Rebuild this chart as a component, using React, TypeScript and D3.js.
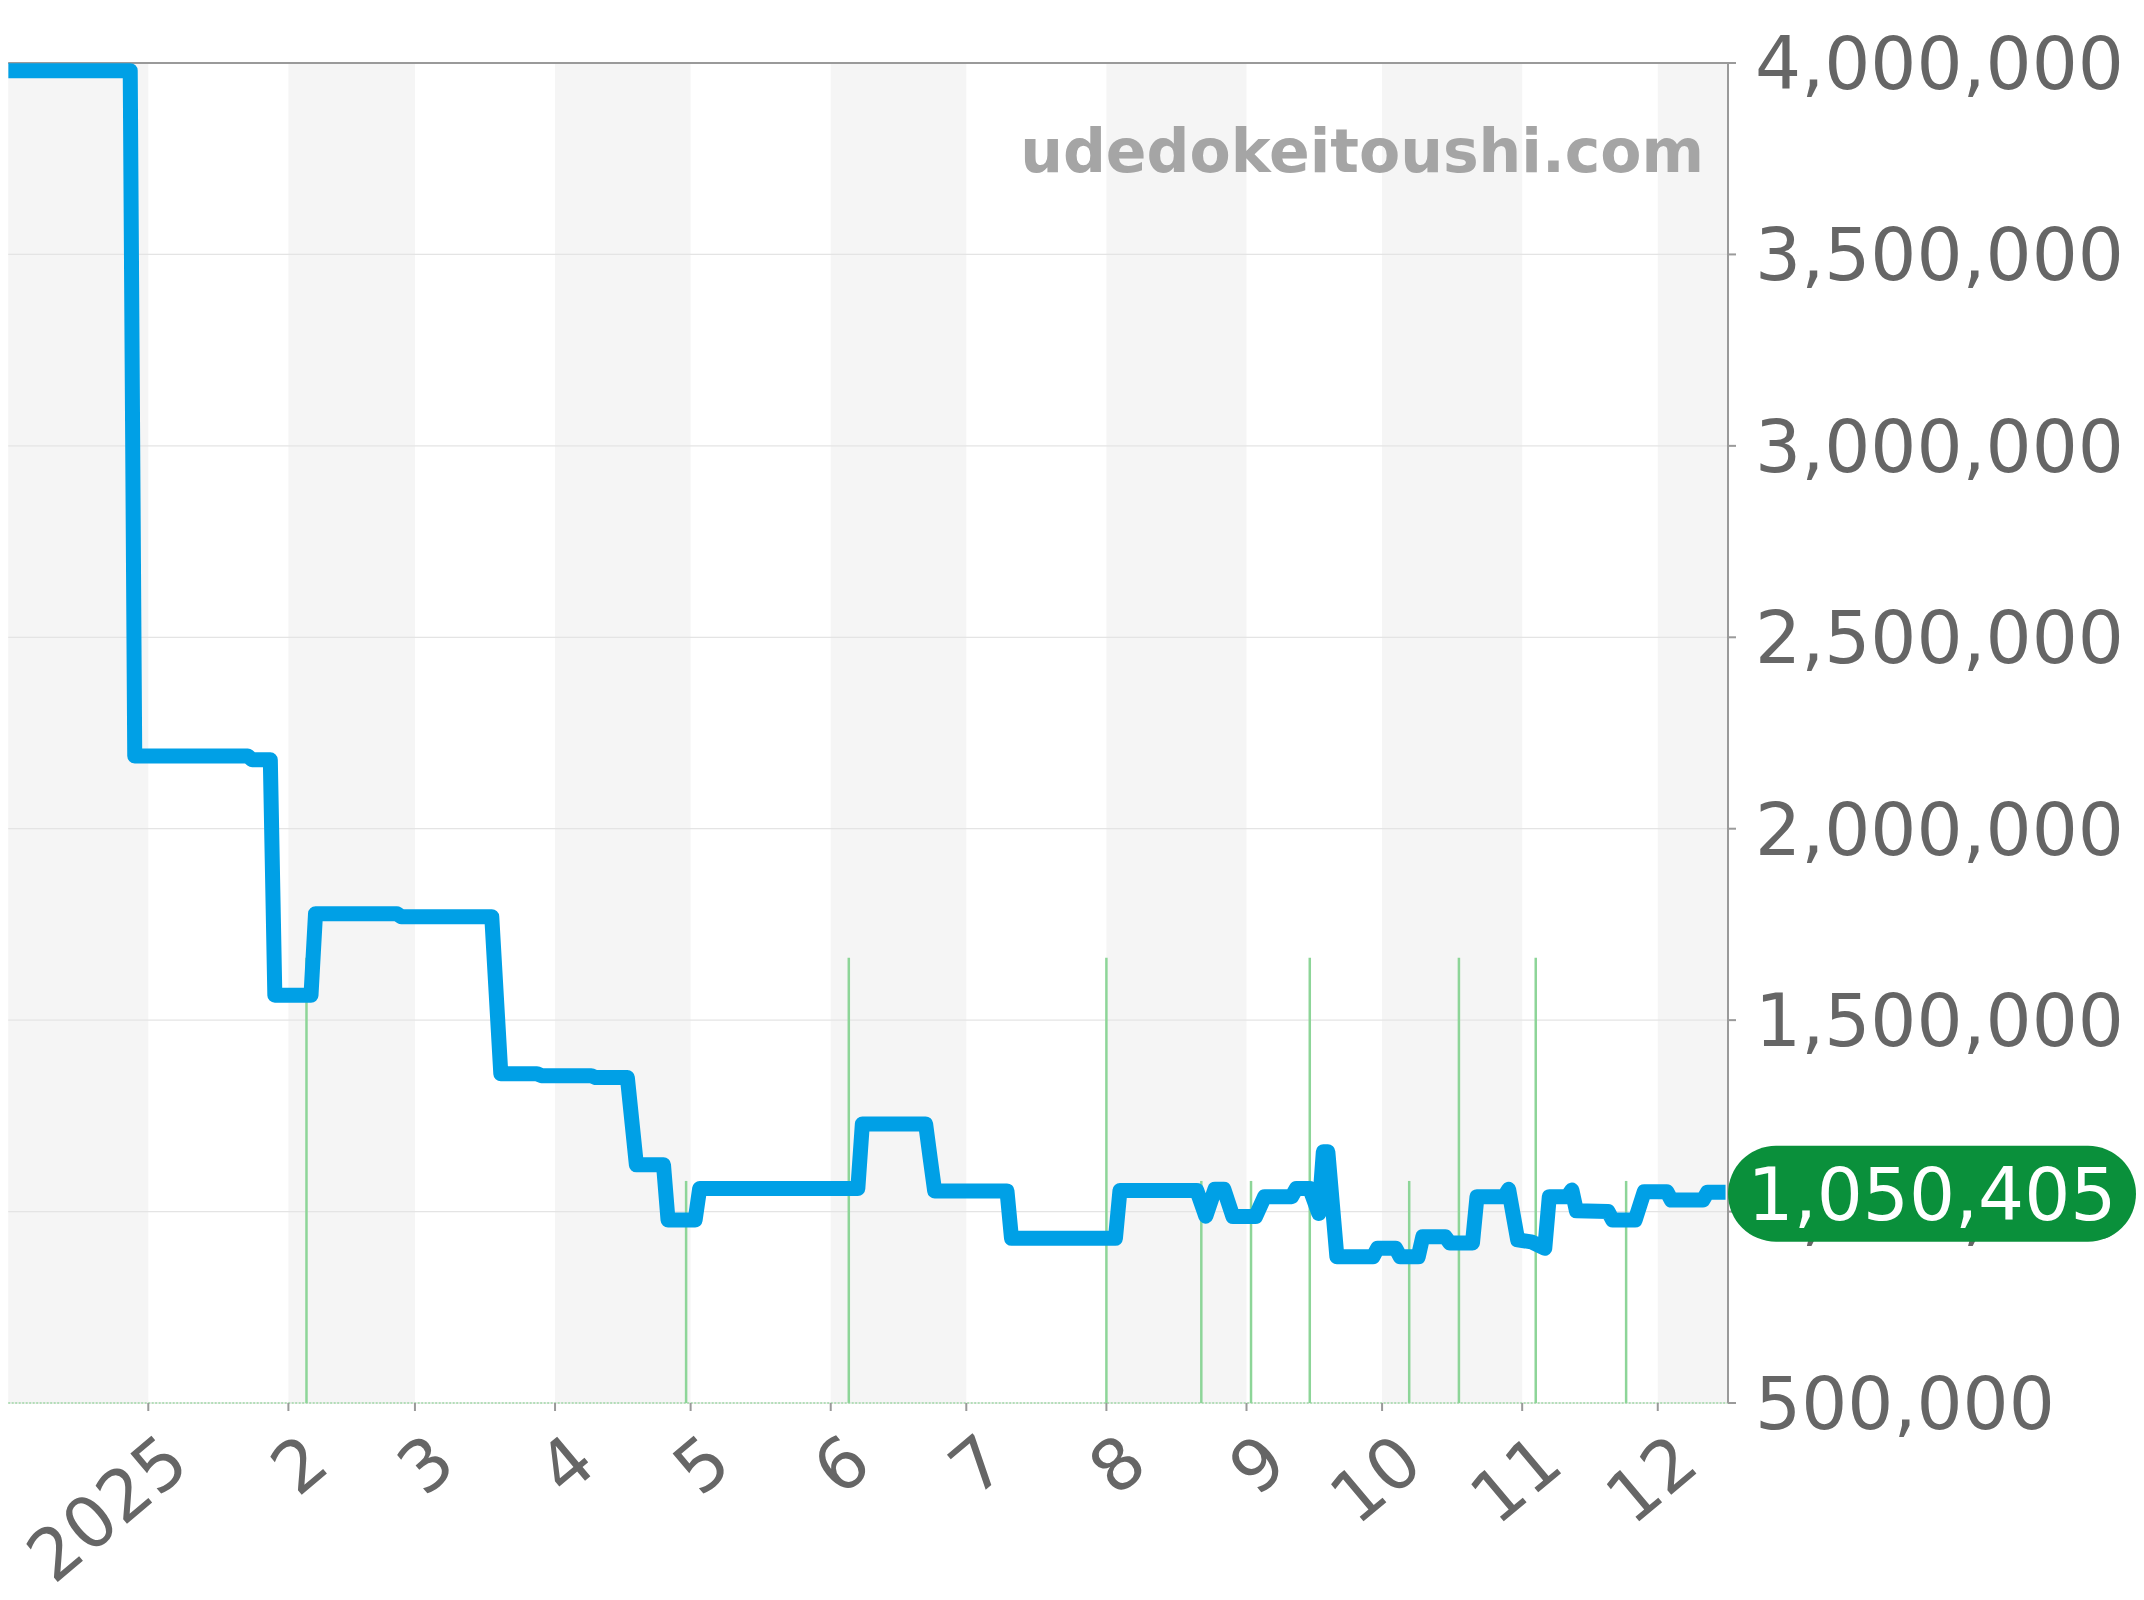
import React from "react";
import * as d3 from "d3";

// ---------- data ----------
const PRICE_DATES = [
  "2024-12-01", "2024-12-28", "2024-12-29", "2025-01-23", "2025-01-24", "2025-01-28",
  "2025-01-29", "2025-02-06", "2025-02-07", "2025-02-25", "2025-02-26", "2025-03-18",
  "2025-03-20", "2025-03-28", "2025-03-29", "2025-04-09", "2025-04-10", "2025-04-17",
  "2025-04-19", "2025-04-25", "2025-04-26", "2025-05-02", "2025-05-03", "2025-06-07",
  "2025-06-08", "2025-06-22", "2025-06-23", "2025-06-24", "2025-07-10", "2025-07-11",
  "2025-08-03", "2025-08-04", "2025-08-21", "2025-08-23", "2025-08-25", "2025-08-27",
  "2025-08-29", "2025-09-03", "2025-09-05", "2025-09-11", "2025-09-12", "2025-09-15",
  "2025-09-17", "2025-09-18", "2025-09-19", "2025-09-21", "2025-09-29", "2025-09-30",
  "2025-10-04", "2025-10-05", "2025-10-09", "2025-10-10", "2025-10-15", "2025-10-16",
  "2025-10-21", "2025-10-22", "2025-10-28", "2025-10-29", "2025-10-31", "2025-11-03",
  "2025-11-06", "2025-11-07", "2025-11-11", "2025-11-12", "2025-11-13", "2025-11-20",
  "2025-11-21", "2025-11-26", "2025-11-28", "2025-12-03", "2025-12-04", "2025-12-11",
  "2025-12-12", "2025-12-16",
];
const PRICE_VALUES = [
  3980000, 3980000, 2190000, 2190000, 2180000, 2180000,
  1565000, 1565000, 1778000, 1778000, 1770000, 1770000,
  1360000, 1360000, 1355000, 1355000, 1350000, 1350000,
  1122000, 1122000, 978000, 978000, 1060000, 1060000,
  1229000, 1229000, 1140000, 1054000, 1054000, 930000,
  930000, 1055000, 1055000, 988000, 1058000, 1058000,
  987000, 987000, 1039000, 1039000, 1060000, 1060000,
  995000, 1156000, 1156000, 882000, 882000, 904000,
  904000, 882000, 882000, 934000, 934000, 918000,
  918000, 1039000, 1039000, 1058000, 926000, 921000,
  904000, 1039000, 1039000, 1056000, 1002000, 1000000,
  978000, 978000, 1052000, 1052000, 1030000, 1030000,
  1050405, 1050405,
];
const CURRENT_PRICE = 1050405;

const EVENT_DATES = [
  "2025-02-05", "2025-04-30", "2025-06-05", "2025-08-01", "2025-08-22", "2025-09-02",
  "2025-09-15", "2025-10-07", "2025-10-18", "2025-11-04", "2025-11-24",
];
const EVENT_KINDS = [
  "tall", "short", "tall", "tall", "short", "short",
  "tall", "short", "tall", "tall", "short",
];
const EVENT_TOP: Record<string, number> = { tall: 1663000, short: 1080000 };

const MONTH_TICKS = [
  "2025-01-01", "2025-02-01", "2025-03-01", "2025-04-01", "2025-05-01", "2025-06-01",
  "2025-07-01", "2025-08-01", "2025-09-01", "2025-10-01", "2025-11-01", "2025-12-01",
];
const MONTH_LABELS = ["2025", "2", "3", "4", "5", "6", "7", "8", "9", "10", "11", "12"];
const Y_TICKS = [500000, 1000000, 1500000, 2000000, 2500000, 3000000, 3500000, 4000000];
const X_DOMAIN = ["2024-12-01T00:00", "2025-12-16T13:00"];
const Y_DOMAIN = [500000, 4000000];
const WATERMARK = "udedokeitoushi.com";

// ---------- layout ----------
const W = 2144;
const H = 1600;
const PLOT = { left: 8.2, right: 1728, top: 63, bottom: 1403 };
const FONT = "'DejaVu Sans', Verdana, sans-serif";

const parseDay = d3.timeParse("%Y-%m-%d");
const parseDT = d3.timeParse("%Y-%m-%dT%H:%M");
const fmt = d3.format(",");

export default function App() {
  const x = d3
    .scaleTime()
    .domain(X_DOMAIN.map((s) => parseDT(s) as Date))
    .range([PLOT.left, PLOT.right]);
  const y = d3.scaleLinear().domain(Y_DOMAIN).range([PLOT.bottom, PLOT.top]);

  const pts = PRICE_DATES.map((d, i) => ({ date: parseDay(d) as Date, value: PRICE_VALUES[i] }));
  const line = d3
    .line<{ date: Date; value: number }>()
    .x((d) => x(d.date))
    .y((d) => y(d.value))
    .curve(d3.curveLinear);

  const monthDates = MONTH_TICKS.map((d) => parseDay(d) as Date);
  const bounds = [x.domain()[0], ...monthDates, x.domain()[1]];
  const bands = bounds.slice(0, -1).map((d, i) => ({ x0: x(d), x1: x(bounds[i + 1]), shaded: i % 2 === 0 }));

  const pillY = y(CURRENT_PRICE);
  const pillH = 96;
  const pillW = 408;

  return (
    <svg
      width={W}
      height={H}
      style={{ position: "absolute", left: 0, top: 0, background: "#fff" }}
      fontFamily={FONT}
    >
      <defs>
        <clipPath id="plotclip">
          <rect x={PLOT.left} y={PLOT.top - 10} width={PLOT.right - PLOT.left} height={PLOT.bottom - PLOT.top + 10} />
        </clipPath>
      </defs>

      {/* alternating month bands */}
      {bands.map((b, i) =>
        b.shaded ? (
          <rect key={i} x={b.x0} y={PLOT.top} width={b.x1 - b.x0} height={PLOT.bottom - PLOT.top} fill="#f5f5f5" />
        ) : null
      )}

      {/* horizontal grid */}
      {Y_TICKS.map((t) => (
        <line key={t} x1={PLOT.left} x2={PLOT.right} y1={y(t)} y2={y(t)} stroke="#e4e4e4" strokeWidth={1.2} />
      ))}

      {/* top border */}
      <line x1={PLOT.left} x2={PLOT.right} y1={PLOT.top} y2={PLOT.top} stroke="#9a9a9a" strokeWidth={2} />

      {/* bottom axis (light green dotted) */}
      <line
        x1={PLOT.left}
        x2={PLOT.right}
        y1={PLOT.bottom}
        y2={PLOT.bottom}
        stroke="#9fd8a6"
        strokeWidth={1.5}
        strokeDasharray="2,1.5"
      />

      {/* event markers */}
      {EVENT_DATES.map((d, i) => {
        const xx = x(parseDay(d) as Date);
        return (
          <line
            key={d}
            x1={xx}
            x2={xx}
            y1={PLOT.bottom}
            y2={y(EVENT_TOP[EVENT_KINDS[i]])}
            stroke="#8dd598"
            strokeWidth={2.5}
          />
        );
      })}

      {/* watermark */}
      <text x={1704} y={172} textAnchor="end" fontSize={60} fontWeight="bold" fill="#a5a5a5">
        {WATERMARK}
      </text>

      {/* price line */}
      <path
        d={line(pts) || ""}
        fill="none"
        stroke="#00a0e6"
        strokeWidth={15}
        strokeLinejoin="round"
        strokeLinecap="butt"
        clipPath="url(#plotclip)"
      />

      {/* x ticks & labels */}
      {monthDates.map((d, i) => {
        const xx = x(d);
        return (
          <g key={i}>
            <line x1={xx} x2={xx} y1={PLOT.bottom} y2={PLOT.bottom + 8} stroke="#999" strokeWidth={2} />
            <text
              transform={`translate(${xx + 44},${1469}) rotate(-40)`}
              textAnchor="end"
              fontSize={71}
              fill="#666"
            >
              {MONTH_LABELS[i]}
            </text>
          </g>
        );
      })}

      {/* right axis */}
      <line x1={PLOT.right} x2={PLOT.right} y1={PLOT.top} y2={PLOT.bottom} stroke="#9a9a9a" strokeWidth={2} />
      {Y_TICKS.map((t) => (
        <g key={t}>
          <line x1={PLOT.right} x2={PLOT.right + 8} y1={y(t)} y2={y(t)} stroke="#9a9a9a" strokeWidth={2} />
          <text x={1755} y={y(t) + 26} fontSize={72.5} fill="#666">
            {fmt(t)}
          </text>
        </g>
      ))}

      {/* current price pill */}
      <rect
        x={PLOT.right}
        y={pillY - 46.5}
        width={pillW}
        height={pillH}
        rx={pillH / 2}
        ry={pillH / 2}
        fill="#0a903b"
      />
      <text x={PLOT.right + pillW / 2} y={pillY + 27.5} textAnchor="middle" fontSize={72.5} fill="#fff">
        {fmt(CURRENT_PRICE)}
      </text>
    </svg>
  );
}
